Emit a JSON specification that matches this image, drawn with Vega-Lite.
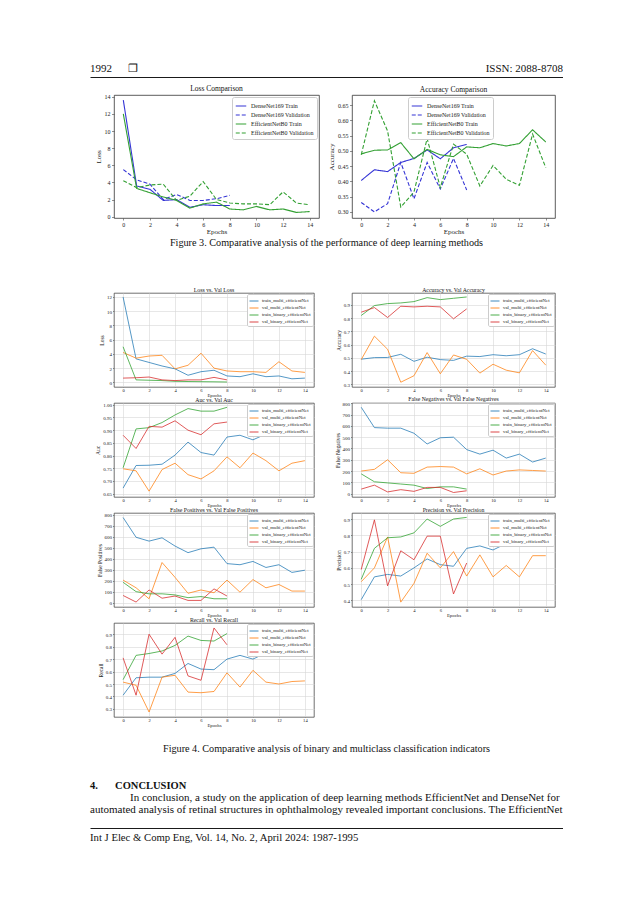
{
"$schema": "https://vega.github.io/schema/vega-lite/v6.json",
"autosize": {"type": "pad"},
"padding": {"left": 90, "top": 54, "right": 0, "bottom": 0},
"background": "white",
"config": {
 "font": "Liberation Serif",
 "view": {"stroke": null},
 "concat": {"spacing": 0},
 "axis": {"labelFont": "Liberation Serif", "titleFont": "Liberation Serif", "titleFontWeight": "normal", "labelColor": "#222", "titleColor": "#222", "domain": false, "tickColor": "#444", "tickWidth": 0.6, "gridColor": "#d6d6d6", "gridWidth": 0.6, "labelPadding": 1},
 "title": {"font": "Liberation Serif", "fontWeight": "normal", "color": "#111"},
 "legend": {"labelFont": "Liberation Serif", "labelColor": "#222"},
 "text": {"font": "Liberation Serif", "color": "#111"}
},
"datasets": {
 "fig3": [
  {"metric":"loss","epoch":0,"DenseNet169 Train":13.6,"DenseNet169 Validation":5.5,"EfficientNetB0 Train":12.0,"EfficientNetB0 Validation":4.2},
  {"metric":"loss","epoch":1,"DenseNet169 Train":3.6,"DenseNet169 Validation":4.3,"EfficientNetB0 Train":3.3,"EfficientNetB0 Validation":3.4},
  {"metric":"loss","epoch":2,"DenseNet169 Train":3.2,"DenseNet169 Validation":3.8,"EfficientNetB0 Train":2.8,"EfficientNetB0 Validation":3.7},
  {"metric":"loss","epoch":3,"DenseNet169 Train":1.9,"DenseNet169 Validation":2.0,"EfficientNetB0 Train":2.3,"EfficientNetB0 Validation":3.8},
  {"metric":"loss","epoch":4,"DenseNet169 Train":2.0,"DenseNet169 Validation":2.6,"EfficientNetB0 Train":1.9,"EfficientNetB0 Validation":1.9},
  {"metric":"loss","epoch":5,"DenseNet169 Train":1.1,"DenseNet169 Validation":1.9,"EfficientNetB0 Train":1.0,"EfficientNetB0 Validation":2.4},
  {"metric":"loss","epoch":6,"DenseNet169 Train":1.4,"DenseNet169 Validation":1.9,"EfficientNetB0 Train":1.5,"EfficientNetB0 Validation":4.1},
  {"metric":"loss","epoch":7,"DenseNet169 Train":1.3,"DenseNet169 Validation":2.1,"EfficientNetB0 Train":1.7,"EfficientNetB0 Validation":2.0},
  {"metric":"loss","epoch":8,"DenseNet169 Train":1.3,"DenseNet169 Validation":2.5,"EfficientNetB0 Train":0.9,"EfficientNetB0 Validation":1.6},
  {"metric":"loss","epoch":9,"EfficientNetB0 Train":0.8,"EfficientNetB0 Validation":1.5},
  {"metric":"loss","epoch":10,"EfficientNetB0 Train":1.2,"EfficientNetB0 Validation":1.5},
  {"metric":"loss","epoch":11,"EfficientNetB0 Train":0.8,"EfficientNetB0 Validation":1.4},
  {"metric":"loss","epoch":12,"EfficientNetB0 Train":0.9,"EfficientNetB0 Validation":2.9},
  {"metric":"loss","epoch":13,"EfficientNetB0 Train":0.5,"EfficientNetB0 Validation":1.6},
  {"metric":"loss","epoch":14,"EfficientNetB0 Train":0.6,"EfficientNetB0 Validation":1.4},
  {"metric":"acc","epoch":0,"DenseNet169 Train":0.403,"DenseNet169 Validation":0.331,"EfficientNetB0 Train":0.490,"EfficientNetB0 Validation":0.487},
  {"metric":"acc","epoch":1,"DenseNet169 Train":0.438,"DenseNet169 Validation":0.300,"EfficientNetB0 Train":0.502,"EfficientNetB0 Validation":0.664},
  {"metric":"acc","epoch":2,"DenseNet169 Train":0.432,"DenseNet169 Validation":0.327,"EfficientNetB0 Train":0.503,"EfficientNetB0 Validation":0.565},
  {"metric":"acc","epoch":3,"DenseNet169 Train":0.462,"DenseNet169 Validation":0.462,"EfficientNetB0 Train":0.527,"EfficientNetB0 Validation":0.316},
  {"metric":"acc","epoch":4,"DenseNet169 Train":0.475,"DenseNet169 Validation":0.343,"EfficientNetB0 Train":0.474,"EfficientNetB0 Validation":0.365},
  {"metric":"acc","epoch":5,"DenseNet169 Train":0.503,"DenseNet169 Validation":0.462,"EfficientNetB0 Train":0.505,"EfficientNetB0 Validation":0.540},
  {"metric":"acc","epoch":6,"DenseNet169 Train":0.474,"DenseNet169 Validation":0.375,"EfficientNetB0 Train":0.487,"EfficientNetB0 Validation":0.380},
  {"metric":"acc","epoch":7,"DenseNet169 Train":0.510,"DenseNet169 Validation":0.475,"EfficientNetB0 Train":0.481,"EfficientNetB0 Validation":0.522},
  {"metric":"acc","epoch":8,"DenseNet169 Train":0.521,"DenseNet169 Validation":0.372,"EfficientNetB0 Train":0.513,"EfficientNetB0 Validation":0.489},
  {"metric":"acc","epoch":9,"EfficientNetB0 Train":0.510,"EfficientNetB0 Validation":0.385},
  {"metric":"acc","epoch":10,"EfficientNetB0 Train":0.524,"EfficientNetB0 Validation":0.452},
  {"metric":"acc","epoch":11,"EfficientNetB0 Train":0.516,"EfficientNetB0 Validation":0.407},
  {"metric":"acc","epoch":12,"EfficientNetB0 Train":0.524,"EfficientNetB0 Validation":0.387},
  {"metric":"acc","epoch":13,"EfficientNetB0 Train":0.569,"EfficientNetB0 Validation":0.555},
  {"metric":"acc","epoch":14,"EfficientNetB0 Train":0.529,"EfficientNetB0 Validation":0.445}
 ],
 "fig4": [
  {"metric":"loss","epoch":0,"train_multi_efficientNet":12.0,"val_multi_efficientNet":4.2,"train_binary_efficientNet":5.0,"val_binary_efficientNet":0.6},
  {"metric":"loss","epoch":1,"train_multi_efficientNet":3.3,"val_multi_efficientNet":3.4,"train_binary_efficientNet":0.35,"val_binary_efficientNet":0.65},
  {"metric":"loss","epoch":2,"train_multi_efficientNet":2.8,"val_multi_efficientNet":3.7,"train_binary_efficientNet":0.3,"val_binary_efficientNet":0.75},
  {"metric":"loss","epoch":3,"train_multi_efficientNet":2.3,"val_multi_efficientNet":3.8,"train_binary_efficientNet":0.25,"val_binary_efficientNet":0.35},
  {"metric":"loss","epoch":4,"train_multi_efficientNet":1.9,"val_multi_efficientNet":1.9,"train_binary_efficientNet":0.15,"val_binary_efficientNet":0.25},
  {"metric":"loss","epoch":5,"train_multi_efficientNet":1.0,"val_multi_efficientNet":2.4,"train_binary_efficientNet":0.12,"val_binary_efficientNet":0.35},
  {"metric":"loss","epoch":6,"train_multi_efficientNet":1.5,"val_multi_efficientNet":4.1,"train_binary_efficientNet":0.1,"val_binary_efficientNet":0.35},
  {"metric":"loss","epoch":7,"train_multi_efficientNet":1.7,"val_multi_efficientNet":2.0,"train_binary_efficientNet":0.08,"val_binary_efficientNet":0.7},
  {"metric":"loss","epoch":8,"train_multi_efficientNet":0.9,"val_multi_efficientNet":1.6,"train_binary_efficientNet":0.05,"val_binary_efficientNet":0.35},
  {"metric":"loss","epoch":9,"train_multi_efficientNet":0.8,"val_multi_efficientNet":1.5},
  {"metric":"loss","epoch":10,"train_multi_efficientNet":1.2,"val_multi_efficientNet":1.5},
  {"metric":"loss","epoch":11,"train_multi_efficientNet":0.8,"val_multi_efficientNet":1.4},
  {"metric":"loss","epoch":12,"train_multi_efficientNet":0.9,"val_multi_efficientNet":2.9},
  {"metric":"loss","epoch":13,"train_multi_efficientNet":0.5,"val_multi_efficientNet":1.6},
  {"metric":"loss","epoch":14,"train_multi_efficientNet":0.6,"val_multi_efficientNet":1.4},
  {"metric":"acc","epoch":0,"train_multi_efficientNet":0.490,"val_multi_efficientNet":0.487,"train_binary_efficientNet":0.82,"val_binary_efficientNet":0.845},
  {"metric":"acc","epoch":1,"train_multi_efficientNet":0.502,"val_multi_efficientNet":0.664,"train_binary_efficientNet":0.895,"val_binary_efficientNet":0.88},
  {"metric":"acc","epoch":2,"train_multi_efficientNet":0.503,"val_multi_efficientNet":0.565,"train_binary_efficientNet":0.91,"val_binary_efficientNet":0.805},
  {"metric":"acc","epoch":3,"train_multi_efficientNet":0.527,"val_multi_efficientNet":0.316,"train_binary_efficientNet":0.915,"val_binary_efficientNet":0.89},
  {"metric":"acc","epoch":4,"train_multi_efficientNet":0.474,"val_multi_efficientNet":0.365,"train_binary_efficientNet":0.925,"val_binary_efficientNet":0.885},
  {"metric":"acc","epoch":5,"train_multi_efficientNet":0.505,"val_multi_efficientNet":0.540,"train_binary_efficientNet":0.955,"val_binary_efficientNet":0.89},
  {"metric":"acc","epoch":6,"train_multi_efficientNet":0.487,"val_multi_efficientNet":0.380,"train_binary_efficientNet":0.94,"val_binary_efficientNet":0.885},
  {"metric":"acc","epoch":7,"train_multi_efficientNet":0.481,"val_multi_efficientNet":0.522,"train_binary_efficientNet":0.95,"val_binary_efficientNet":0.795},
  {"metric":"acc","epoch":8,"train_multi_efficientNet":0.513,"val_multi_efficientNet":0.489,"train_binary_efficientNet":0.96,"val_binary_efficientNet":0.87},
  {"metric":"acc","epoch":9,"train_multi_efficientNet":0.510,"val_multi_efficientNet":0.385},
  {"metric":"acc","epoch":10,"train_multi_efficientNet":0.524,"val_multi_efficientNet":0.452},
  {"metric":"acc","epoch":11,"train_multi_efficientNet":0.516,"val_multi_efficientNet":0.407},
  {"metric":"acc","epoch":12,"train_multi_efficientNet":0.524,"val_multi_efficientNet":0.387},
  {"metric":"acc","epoch":13,"train_multi_efficientNet":0.569,"val_multi_efficientNet":0.555},
  {"metric":"acc","epoch":14,"train_multi_efficientNet":0.529,"val_multi_efficientNet":0.445},
  {"metric":"auc","epoch":0,"train_multi_efficientNet":0.672,"val_multi_efficientNet":0.748,"train_binary_efficientNet":0.752,"val_binary_efficientNet":0.880},
  {"metric":"auc","epoch":1,"train_multi_efficientNet":0.761,"val_multi_efficientNet":0.740,"train_binary_efficientNet":0.905,"val_binary_efficientNet":0.828},
  {"metric":"auc","epoch":2,"train_multi_efficientNet":0.762,"val_multi_efficientNet":0.660,"train_binary_efficientNet":0.910,"val_binary_efficientNet":0.915},
  {"metric":"auc","epoch":3,"train_multi_efficientNet":0.766,"val_multi_efficientNet":0.745,"train_binary_efficientNet":0.930,"val_binary_efficientNet":0.912},
  {"metric":"auc","epoch":4,"train_multi_efficientNet":0.802,"val_multi_efficientNet":0.770,"train_binary_efficientNet":0.960,"val_binary_efficientNet":0.937},
  {"metric":"auc","epoch":5,"train_multi_efficientNet":0.853,"val_multi_efficientNet":0.725,"train_binary_efficientNet":0.985,"val_binary_efficientNet":0.900},
  {"metric":"auc","epoch":6,"train_multi_efficientNet":0.812,"val_multi_efficientNet":0.708,"train_binary_efficientNet":0.975,"val_binary_efficientNet":0.882},
  {"metric":"auc","epoch":7,"train_multi_efficientNet":0.802,"val_multi_efficientNet":0.740,"train_binary_efficientNet":0.975,"val_binary_efficientNet":0.925},
  {"metric":"auc","epoch":8,"train_multi_efficientNet":0.873,"val_multi_efficientNet":0.795,"train_binary_efficientNet":0.990,"val_binary_efficientNet":0.932},
  {"metric":"auc","epoch":9,"train_multi_efficientNet":0.880,"val_multi_efficientNet":0.752},
  {"metric":"auc","epoch":10,"train_multi_efficientNet":0.862,"val_multi_efficientNet":0.810},
  {"metric":"auc","epoch":11,"train_multi_efficientNet":0.885,"val_multi_efficientNet":0.780},
  {"metric":"auc","epoch":12,"train_multi_efficientNet":0.900,"val_multi_efficientNet":0.740},
  {"metric":"auc","epoch":13,"train_multi_efficientNet":0.910,"val_multi_efficientNet":0.770},
  {"metric":"auc","epoch":14,"train_multi_efficientNet":0.905,"val_multi_efficientNet":0.780},
  {"metric":"fn","epoch":0,"train_multi_efficientNet":765,"val_multi_efficientNet":200,"train_binary_efficientNet":175,"val_binary_efficientNet":40},
  {"metric":"fn","epoch":1,"train_multi_efficientNet":585,"val_multi_efficientNet":215,"train_binary_efficientNet":105,"val_binary_efficientNet":75},
  {"metric":"fn","epoch":2,"train_multi_efficientNet":580,"val_multi_efficientNet":300,"train_binary_efficientNet":95,"val_binary_efficientNet":15},
  {"metric":"fn","epoch":3,"train_multi_efficientNet":580,"val_multi_efficientNet":185,"train_binary_efficientNet":85,"val_binary_efficientNet":35},
  {"metric":"fn","epoch":4,"train_multi_efficientNet":535,"val_multi_efficientNet":180,"train_binary_efficientNet":75,"val_binary_efficientNet":20},
  {"metric":"fn","epoch":5,"train_multi_efficientNet":440,"val_multi_efficientNet":235,"train_binary_efficientNet":45,"val_binary_efficientNet":55},
  {"metric":"fn","epoch":6,"train_multi_efficientNet":495,"val_multi_efficientNet":240,"train_binary_efficientNet":60,"val_binary_efficientNet":55},
  {"metric":"fn","epoch":7,"train_multi_efficientNet":500,"val_multi_efficientNet":235,"train_binary_efficientNet":60,"val_binary_efficientNet":10},
  {"metric":"fn","epoch":8,"train_multi_efficientNet":390,"val_multi_efficientNet":175,"train_binary_efficientNet":40,"val_binary_efficientNet":25},
  {"metric":"fn","epoch":9,"train_multi_efficientNet":350,"val_multi_efficientNet":220},
  {"metric":"fn","epoch":10,"train_multi_efficientNet":385,"val_multi_efficientNet":165},
  {"metric":"fn","epoch":11,"train_multi_efficientNet":315,"val_multi_efficientNet":200},
  {"metric":"fn","epoch":12,"train_multi_efficientNet":350,"val_multi_efficientNet":210},
  {"metric":"fn","epoch":13,"train_multi_efficientNet":280,"val_multi_efficientNet":205},
  {"metric":"fn","epoch":14,"train_multi_efficientNet":315,"val_multi_efficientNet":200},
  {"metric":"fp","epoch":0,"train_multi_efficientNet":775,"val_multi_efficientNet":205,"train_binary_efficientNet":185,"val_binary_efficientNet":65},
  {"metric":"fp","epoch":1,"train_multi_efficientNet":595,"val_multi_efficientNet":135,"train_binary_efficientNet":100,"val_binary_efficientNet":5},
  {"metric":"fp","epoch":2,"train_multi_efficientNet":560,"val_multi_efficientNet":35,"train_binary_efficientNet":80,"val_binary_efficientNet":115},
  {"metric":"fp","epoch":3,"train_multi_efficientNet":590,"val_multi_efficientNet":365,"train_binary_efficientNet":80,"val_binary_efficientNet":40},
  {"metric":"fp","epoch":4,"train_multi_efficientNet":515,"val_multi_efficientNet":230,"train_binary_efficientNet":70,"val_binary_efficientNet":60},
  {"metric":"fp","epoch":5,"train_multi_efficientNet":455,"val_multi_efficientNet":85,"train_binary_efficientNet":45,"val_binary_efficientNet":20},
  {"metric":"fp","epoch":6,"train_multi_efficientNet":490,"val_multi_efficientNet":115,"train_binary_efficientNet":55,"val_binary_efficientNet":20},
  {"metric":"fp","epoch":7,"train_multi_efficientNet":505,"val_multi_efficientNet":90,"train_binary_efficientNet":35,"val_binary_efficientNet":125},
  {"metric":"fp","epoch":8,"train_multi_efficientNet":355,"val_multi_efficientNet":205,"train_binary_efficientNet":35,"val_binary_efficientNet":60},
  {"metric":"fp","epoch":9,"train_multi_efficientNet":345,"val_multi_efficientNet":95},
  {"metric":"fp","epoch":10,"train_multi_efficientNet":375,"val_multi_efficientNet":210},
  {"metric":"fp","epoch":11,"train_multi_efficientNet":320,"val_multi_efficientNet":135},
  {"metric":"fp","epoch":12,"train_multi_efficientNet":345,"val_multi_efficientNet":165},
  {"metric":"fp","epoch":13,"train_multi_efficientNet":275,"val_multi_efficientNet":105},
  {"metric":"fp","epoch":14,"train_multi_efficientNet":295,"val_multi_efficientNet":105},
  {"metric":"prec","epoch":0,"train_multi_efficientNet":0.405,"val_multi_efficientNet":0.515,"train_binary_efficientNet":0.53,"val_binary_efficientNet":0.59},
  {"metric":"prec","epoch":1,"train_multi_efficientNet":0.545,"val_multi_efficientNet":0.60,"train_binary_efficientNet":0.72,"val_binary_efficientNet":0.895},
  {"metric":"prec","epoch":2,"train_multi_efficientNet":0.56,"val_multi_efficientNet":0.79,"train_binary_efficientNet":0.785,"val_binary_efficientNet":0.49},
  {"metric":"prec","epoch":3,"train_multi_efficientNet":0.55,"val_multi_efficientNet":0.39,"train_binary_efficientNet":0.79,"val_binary_efficientNet":0.705},
  {"metric":"prec","epoch":4,"train_multi_efficientNet":0.60,"val_multi_efficientNet":0.505,"train_binary_efficientNet":0.815,"val_binary_efficientNet":0.65},
  {"metric":"prec","epoch":5,"train_multi_efficientNet":0.655,"val_multi_efficientNet":0.69,"train_binary_efficientNet":0.90,"val_binary_efficientNet":0.795},
  {"metric":"prec","epoch":6,"train_multi_efficientNet":0.62,"val_multi_efficientNet":0.60,"train_binary_efficientNet":0.855,"val_binary_efficientNet":0.795},
  {"metric":"prec","epoch":7,"train_multi_efficientNet":0.61,"val_multi_efficientNet":0.70,"train_binary_efficientNet":0.90,"val_binary_efficientNet":0.44},
  {"metric":"prec","epoch":8,"train_multi_efficientNet":0.72,"val_multi_efficientNet":0.55,"train_binary_efficientNet":0.91,"val_binary_efficientNet":0.63},
  {"metric":"prec","epoch":9,"train_multi_efficientNet":0.735,"val_multi_efficientNet":0.68},
  {"metric":"prec","epoch":10,"train_multi_efficientNet":0.71,"val_multi_efficientNet":0.545},
  {"metric":"prec","epoch":11,"train_multi_efficientNet":0.75,"val_multi_efficientNet":0.615},
  {"metric":"prec","epoch":12,"train_multi_efficientNet":0.735,"val_multi_efficientNet":0.545},
  {"metric":"prec","epoch":13,"train_multi_efficientNet":0.78,"val_multi_efficientNet":0.675},
  {"metric":"prec","epoch":14,"train_multi_efficientNet":0.77,"val_multi_efficientNet":0.675},
  {"metric":"recall","epoch":0,"train_multi_efficientNet":0.41,"val_multi_efficientNet":0.515,"train_binary_efficientNet":0.535,"val_binary_efficientNet":0.71},
  {"metric":"recall","epoch":1,"train_multi_efficientNet":0.55,"val_multi_efficientNet":0.49,"train_binary_efficientNet":0.73,"val_binary_efficientNet":0.41},
  {"metric":"recall","epoch":2,"train_multi_efficientNet":0.555,"val_multi_efficientNet":0.275,"train_binary_efficientNet":0.745,"val_binary_efficientNet":0.90},
  {"metric":"recall","epoch":3,"train_multi_efficientNet":0.555,"val_multi_efficientNet":0.555,"train_binary_efficientNet":0.765,"val_binary_efficientNet":0.74},
  {"metric":"recall","epoch":4,"train_multi_efficientNet":0.585,"val_multi_efficientNet":0.57,"train_binary_efficientNet":0.81,"val_binary_efficientNet":0.875},
  {"metric":"recall","epoch":5,"train_multi_efficientNet":0.665,"val_multi_efficientNet":0.435,"train_binary_efficientNet":0.885,"val_binary_efficientNet":0.565},
  {"metric":"recall","epoch":6,"train_multi_efficientNet":0.62,"val_multi_efficientNet":0.43,"train_binary_efficientNet":0.85,"val_binary_efficientNet":0.53},
  {"metric":"recall","epoch":7,"train_multi_efficientNet":0.615,"val_multi_efficientNet":0.44,"train_binary_efficientNet":0.845,"val_binary_efficientNet":0.95},
  {"metric":"recall","epoch":8,"train_multi_efficientNet":0.70,"val_multi_efficientNet":0.59,"train_binary_efficientNet":0.905,"val_binary_efficientNet":0.815},
  {"metric":"recall","epoch":9,"train_multi_efficientNet":0.73,"val_multi_efficientNet":0.475},
  {"metric":"recall","epoch":10,"train_multi_efficientNet":0.70,"val_multi_efficientNet":0.61},
  {"metric":"recall","epoch":11,"train_multi_efficientNet":0.75,"val_multi_efficientNet":0.515},
  {"metric":"recall","epoch":12,"train_multi_efficientNet":0.78,"val_multi_efficientNet":0.50},
  {"metric":"recall","epoch":13,"train_multi_efficientNet":0.80,"val_multi_efficientNet":0.52},
  {"metric":"recall","epoch":14,"train_multi_efficientNet":0.79,"val_multi_efficientNet":0.525}
 ]
},
"columns": 4,
"bounds": "flush",
"align": "each",
"spacing": 0,
"resolve": {"scale": {"color": "independent", "strokeDash": "independent"}, "legend": {"color": "independent", "strokeDash": "independent"}},
"concat": [
 {"width": 24, "height": 17,
  "data": {"values": [{"label": "1992", "pos": 0, "side": "left"}, {"label": "❐", "pos": 0.08, "side": "left"}, {"label": "ISSN: 2088-8708", "pos": 1, "side": "right"}]},
  "encoding": {"x": {"field": "pos", "type": "quantitative", "scale": {"domain": [0, 1], "range": [0, 473], "nice": false, "zero": false}, "axis": {"orient": "bottom", "labels": false, "ticks": false, "grid": false, "title": null, "domain": true, "domainColor": "#000", "domainWidth": 0.9}}, "text": {"field": "label"}},
  "layer": [
   {"transform": [{"filter": "datum.side === 'left'"}], "mark": {"type": "text", "align": "left", "fontSize": 11}},
   {"transform": [{"filter": "datum.side === 'right'"}], "mark": {"type": "text", "align": "right", "fontSize": 11}}
  ]},
 {"width": 1, "height": 35, "data": {"values": [{}]}, "mark": {"type": "text", "text": ""}},
 {"width": 1, "height": 1, "data": {"values": [{}]}, "mark": {"type": "text", "text": ""}},
 {"width": 1, "height": 1, "data": {"values": [{}]}, "mark": {"type": "text", "text": ""}},

 {"width": 24, "height": 123, "data": {"values": [{}]}, "mark": {"type": "text", "text": ""}},
 {"width": 205, "height": 123,
  "view": {"stroke": "#333", "strokeWidth": 0.8},
  "title": {"text": "Loss Comparison", "fontSize": 7.5, "offset": 1.5},
  "data": {"name": "fig3"},
  "transform": [{"filter": "datum.metric === 'loss'"}, {"fold": ["DenseNet169 Train", "DenseNet169 Validation", "EfficientNetB0 Train", "EfficientNetB0 Validation"], "as": ["series", "value"]}],
  "mark": {"type": "line", "strokeWidth": 1.1},
  "encoding": {
   "x": {"field": "epoch", "type": "quantitative", "scale": {"domain": [-0.7, 14.7], "nice": false, "zero": false}, "axis": {"values": [0, 2, 4, 6, 8, 10, 12, 14], "title": "Epochs", "grid": false, "labelFontSize": 6, "titleFontSize": 7, "tickSize": 2, "labelPadding": 1, "titlePadding": 0}},
   "y": {"field": "value", "type": "quantitative", "scale": {"domain": [-0.15, 14.2], "nice": false, "zero": false}, "axis": {"values": [0, 2, 4, 6, 8, 10, 12, 14], "title": "Loss", "grid": false, "labelFontSize": 6, "titleFontSize": 7, "tickSize": 2.5, "labelPadding": 1.5, "titlePadding": 3}},
   "color": {"field": "series", "type": "nominal", "scale": {"domain": ["DenseNet169 Train", "DenseNet169 Validation", "EfficientNetB0 Train", "EfficientNetB0 Validation"], "range": ["#3535d5", "#3535d5", "#33a033", "#33a033"]},
    "legend": {"title": null, "orient": "top-right", "offset": 2, "labelFontSize": 6, "symbolType": "stroke", "symbolSize": 110, "symbolStrokeWidth": 1.2, "rowPadding": -1.8, "labelOffset": 4, "padding": 3, "strokeColor": "#ccc", "fillColor": "white", "cornerRadius": 2}},
   "strokeDash": {"field": "series", "type": "nominal", "scale": {"domain": ["DenseNet169 Train", "DenseNet169 Validation", "EfficientNetB0 Train", "EfficientNetB0 Validation"], "range": [[1, 0], [4, 2], [1, 0], [4, 2]]},
    "legend": {"title": null, "orient": "top-right", "offset": 2, "labelFontSize": 6, "symbolType": "stroke", "symbolSize": 110, "symbolStrokeWidth": 1.2, "rowPadding": -1.8, "labelOffset": 4, "padding": 3, "strokeColor": "#ccc", "fillColor": "white", "cornerRadius": 2}}
  }},
 {"width": 33, "height": 1, "data": {"values": [{}]}, "mark": {"type": "text", "text": ""}},
 {"width": 203, "height": 123,
  "view": {"stroke": "#333", "strokeWidth": 0.8},
  "title": {"text": "Accuracy Comparison", "fontSize": 7.5, "offset": 1.5},
  "data": {"name": "fig3"},
  "transform": [{"filter": "datum.metric === 'acc'"}, {"fold": ["DenseNet169 Train", "DenseNet169 Validation", "EfficientNetB0 Train", "EfficientNetB0 Validation"], "as": ["series", "value"]}],
  "mark": {"type": "line", "strokeWidth": 1.1},
  "encoding": {
   "x": {"field": "epoch", "type": "quantitative", "scale": {"domain": [-0.7, 14.7], "nice": false, "zero": false}, "axis": {"values": [0, 2, 4, 6, 8, 10, 12, 14], "title": "Epochs", "grid": false, "labelFontSize": 6, "titleFontSize": 7, "tickSize": 2, "labelPadding": 1, "titlePadding": 0}},
   "y": {"field": "value", "type": "quantitative", "scale": {"domain": [0.28, 0.683], "nice": false, "zero": false}, "axis": {"values": [0.3, 0.35, 0.4, 0.45, 0.5, 0.55, 0.6, 0.65], "format": ".2f", "title": "Accuracy", "grid": false, "labelFontSize": 6, "titleFontSize": 7, "tickSize": 2.5, "labelPadding": 1.5, "titlePadding": 3}},
   "color": {"field": "series", "type": "nominal", "scale": {"domain": ["DenseNet169 Train", "DenseNet169 Validation", "EfficientNetB0 Train", "EfficientNetB0 Validation"], "range": ["#3535d5", "#3535d5", "#33a033", "#33a033"]},
    "legend": {"title": null, "orient": "none", "legendX": 56, "legendY": 2, "labelFontSize": 6, "symbolType": "stroke", "symbolSize": 110, "symbolStrokeWidth": 1.2, "rowPadding": -1.8, "labelOffset": 4, "padding": 3, "strokeColor": "#ccc", "fillColor": "white", "cornerRadius": 2}},
   "strokeDash": {"field": "series", "type": "nominal", "scale": {"domain": ["DenseNet169 Train", "DenseNet169 Validation", "EfficientNetB0 Train", "EfficientNetB0 Validation"], "range": [[1, 0], [4, 2], [1, 0], [4, 2]]},
    "legend": {"title": null, "orient": "none", "legendX": 56, "legendY": 2, "labelFontSize": 6, "symbolType": "stroke", "symbolSize": 110, "symbolStrokeWidth": 1.2, "rowPadding": -1.8, "labelOffset": 4, "padding": 3, "strokeColor": "#ccc", "fillColor": "white", "cornerRadius": 2}}
  }},

 {"width": 24, "height": 50,
  "data": {"values": [{"label": "Figure 3. Comparative analysis of the performance of deep learning methods", "pos": 0.5}]},
  "mark": {"type": "text", "align": "center", "fontSize": 10.2},
  "encoding": {"x": {"field": "pos", "type": "quantitative", "scale": {"domain": [0, 1], "range": [0, 473], "nice": false, "zero": false}, "axis": null}, "text": {"field": "label"}}},
 {"width": 1, "height": 75, "data": {"values": [{}]}, "mark": {"type": "text", "text": ""}},
 {"width": 1, "height": 1, "data": {"values": [{}]}, "mark": {"type": "text", "text": ""}},
 {"width": 1, "height": 1, "data": {"values": [{}]}, "mark": {"type": "text", "text": ""}},

 {"width": 24, "height": 110, "data": {"values": [{}]}, "mark": {"type": "text", "text": ""}},
 {"width": 200, "height": 94, "view": {"stroke": "#333", "strokeWidth": 0.7},
  "title": {"text": "Loss vs. Val Loss", "fontSize": 5.8, "offset": 0.3},
  "data": {"name": "fig4"},
  "transform": [{"filter": "datum.metric === 'loss'"}, {"fold": ["train_multi_efficientNet", "val_multi_efficientNet", "train_binary_efficientNet", "val_binary_efficientNet"], "as": ["series", "value"]}],
  "mark": {"type": "line", "strokeWidth": 0.9, "opacity": 0.85},
  "encoding": {
   "x": {"field": "epoch", "type": "quantitative", "scale": {"domain": [-0.7, 14.7], "nice": false, "zero": false}, "axis": {"values": [0, 2, 4, 6, 8, 10, 12, 14], "title": "Epochs", "grid": true, "labelFontSize": 4.6, "titleFontSize": 4.8, "tickSize": 0.5, "labelPadding": 0, "titlePadding": 0}},
   "y": {"field": "value", "type": "quantitative", "scale": {"domain": [-0.65, 12.55], "nice": false, "zero": false}, "axis": {"values": [0, 2, 4, 6, 8, 10, 12], "title": "Loss", "grid": true, "labelFontSize": 5, "titleFontSize": 5.5, "tickSize": 1.5, "titlePadding": 2}},
   "color": {"field": "series", "type": "nominal", "scale": {"domain": ["train_multi_efficientNet", "val_multi_efficientNet", "train_binary_efficientNet", "val_binary_efficientNet"], "range": ["#1f77b4", "#ff7f0e", "#2ca02c", "#d62728"]},
    "legend": {"title": null, "orient": "top-right", "offset": 1, "labelFontSize": 4.8, "symbolType": "stroke", "symbolSize": 81, "symbolStrokeWidth": 1, "rowPadding": -2.5, "labelOffset": 3, "padding": 2, "strokeColor": "#ccc", "fillColor": "white", "cornerRadius": 1.5}}
  }},
 {"width": 33, "height": 1, "data": {"values": [{}]}, "mark": {"type": "text", "text": ""}},
 {"width": 203, "height": 94, "view": {"stroke": "#333", "strokeWidth": 0.7},
  "title": {"text": "Accuracy vs. Val Accuracy", "fontSize": 5.8, "offset": 0.3},
  "data": {"name": "fig4"},
  "transform": [{"filter": "datum.metric === 'acc'"}, {"fold": ["train_multi_efficientNet", "val_multi_efficientNet", "train_binary_efficientNet", "val_binary_efficientNet"], "as": ["series", "value"]}],
  "mark": {"type": "line", "strokeWidth": 0.9, "opacity": 0.85},
  "encoding": {
   "x": {"field": "epoch", "type": "quantitative", "scale": {"domain": [-0.7, 14.7], "nice": false, "zero": false}, "axis": {"values": [0, 2, 4, 6, 8, 10, 12, 14], "title": "Epochs", "grid": true, "labelFontSize": 4.6, "titleFontSize": 4.5, "tickSize": 0.5, "labelPadding": 0, "titlePadding": 0}},
   "y": {"field": "value", "type": "quantitative", "scale": {"domain": [0.28, 0.99], "nice": false, "zero": false}, "axis": {"values": [0.3, 0.4, 0.5, 0.6, 0.7, 0.8, 0.9], "format": ".1f", "title": "Accuracy", "grid": true, "labelFontSize": 5, "titleFontSize": 5.5, "tickSize": 1.5, "titlePadding": 2}},
   "color": {"field": "series", "type": "nominal", "scale": {"domain": ["train_multi_efficientNet", "val_multi_efficientNet", "train_binary_efficientNet", "val_binary_efficientNet"], "range": ["#1f77b4", "#ff7f0e", "#2ca02c", "#d62728"]},
    "legend": {"title": null, "orient": "top-right", "offset": 1, "labelFontSize": 4.8, "symbolType": "stroke", "symbolSize": 81, "symbolStrokeWidth": 1, "rowPadding": -2.5, "labelOffset": 3, "padding": 2, "strokeColor": "#ccc", "fillColor": "white", "cornerRadius": 1.5}}
  }},

 {"width": 24, "height": 110, "data": {"values": [{}]}, "mark": {"type": "text", "text": ""}},
 {"width": 200, "height": 94, "view": {"stroke": "#333", "strokeWidth": 0.7},
  "title": {"text": "Auc vs. Val Auc", "fontSize": 5.8, "offset": 0.3},
  "data": {"name": "fig4"},
  "transform": [{"filter": "datum.metric === 'auc'"}, {"fold": ["train_multi_efficientNet", "val_multi_efficientNet", "train_binary_efficientNet", "val_binary_efficientNet"], "as": ["series", "value"]}],
  "mark": {"type": "line", "strokeWidth": 0.9, "opacity": 0.85},
  "encoding": {
   "x": {"field": "epoch", "type": "quantitative", "scale": {"domain": [-0.7, 14.7], "nice": false, "zero": false}, "axis": {"values": [0, 2, 4, 6, 8, 10, 12, 14], "title": "Epochs", "grid": true, "labelFontSize": 4.6, "titleFontSize": 4.8, "tickSize": 0.5, "labelPadding": 0, "titlePadding": 0}},
   "y": {"field": "value", "type": "quantitative", "scale": {"domain": [0.637, 1.007], "nice": false, "zero": false}, "axis": {"values": [0.65, 0.7, 0.75, 0.8, 0.85, 0.9, 0.95, 1.0], "format": ".2f", "title": "Auc", "grid": true, "labelFontSize": 5, "titleFontSize": 5.5, "tickSize": 1.5, "titlePadding": 2}},
   "color": {"field": "series", "type": "nominal", "scale": {"domain": ["train_multi_efficientNet", "val_multi_efficientNet", "train_binary_efficientNet", "val_binary_efficientNet"], "range": ["#1f77b4", "#ff7f0e", "#2ca02c", "#d62728"]},
    "legend": {"title": null, "orient": "top-right", "offset": 1, "labelFontSize": 4.8, "symbolType": "stroke", "symbolSize": 81, "symbolStrokeWidth": 1, "rowPadding": -2.5, "labelOffset": 3, "padding": 2, "strokeColor": "#ccc", "fillColor": "white", "cornerRadius": 1.5}}
  }},
 {"width": 33, "height": 1, "data": {"values": [{}]}, "mark": {"type": "text", "text": ""}},
 {"width": 203, "height": 94, "view": {"stroke": "#333", "strokeWidth": 0.7},
  "title": {"text": "False Negatives vs. Val False Negatives", "fontSize": 5.7, "offset": 0},
  "data": {"name": "fig4"},
  "transform": [{"filter": "datum.metric === 'fn'"}, {"fold": ["train_multi_efficientNet", "val_multi_efficientNet", "train_binary_efficientNet", "val_binary_efficientNet"], "as": ["series", "value"]}],
  "mark": {"type": "line", "strokeWidth": 0.9, "opacity": 0.85},
  "encoding": {
   "x": {"field": "epoch", "type": "quantitative", "scale": {"domain": [-0.7, 14.7], "nice": false, "zero": false}, "axis": {"values": [0, 2, 4, 6, 8, 10, 12, 14], "title": "Epochs", "grid": true, "labelFontSize": 4.6, "titleFontSize": 4.8, "tickSize": 0.5, "labelPadding": 0, "titlePadding": 0}},
   "y": {"field": "value", "type": "quantitative", "scale": {"domain": [-30, 803], "nice": false, "zero": false}, "axis": {"values": [0, 100, 200, 300, 400, 500, 600, 700, 800], "title": "False Negatives", "grid": true, "labelFontSize": 5, "titleFontSize": 5.5, "tickSize": 1.5, "titlePadding": 2}},
   "color": {"field": "series", "type": "nominal", "scale": {"domain": ["train_multi_efficientNet", "val_multi_efficientNet", "train_binary_efficientNet", "val_binary_efficientNet"], "range": ["#1f77b4", "#ff7f0e", "#2ca02c", "#d62728"]},
    "legend": {"title": null, "orient": "top-right", "offset": 1, "labelFontSize": 4.8, "symbolType": "stroke", "symbolSize": 81, "symbolStrokeWidth": 1, "rowPadding": -2.5, "labelOffset": 3, "padding": 2, "strokeColor": "#ccc", "fillColor": "white", "cornerRadius": 1.5}}
  }},

 {"width": 24, "height": 110, "data": {"values": [{}]}, "mark": {"type": "text", "text": ""}},
 {"width": 200, "height": 94, "view": {"stroke": "#333", "strokeWidth": 0.7},
  "title": {"text": "False Positives vs. Val False Positives", "fontSize": 5.8, "offset": 0.3},
  "data": {"name": "fig4"},
  "transform": [{"filter": "datum.metric === 'fp'"}, {"fold": ["train_multi_efficientNet", "val_multi_efficientNet", "train_binary_efficientNet", "val_binary_efficientNet"], "as": ["series", "value"]}],
  "mark": {"type": "line", "strokeWidth": 0.9, "opacity": 0.85},
  "encoding": {
   "x": {"field": "epoch", "type": "quantitative", "scale": {"domain": [-0.7, 14.7], "nice": false, "zero": false}, "axis": {"values": [0, 2, 4, 6, 8, 10, 12, 14], "title": "Epochs", "grid": true, "labelFontSize": 4.6, "titleFontSize": 4.8, "tickSize": 0.5, "labelPadding": 0, "titlePadding": 0}},
   "y": {"field": "value", "type": "quantitative", "scale": {"domain": [-40, 816], "nice": false, "zero": false}, "axis": {"values": [0, 100, 200, 300, 400, 500, 600, 700, 800], "title": "False Positives", "grid": true, "labelFontSize": 5, "titleFontSize": 5.5, "tickSize": 1.5, "titlePadding": 2}},
   "color": {"field": "series", "type": "nominal", "scale": {"domain": ["train_multi_efficientNet", "val_multi_efficientNet", "train_binary_efficientNet", "val_binary_efficientNet"], "range": ["#1f77b4", "#ff7f0e", "#2ca02c", "#d62728"]},
    "legend": {"title": null, "orient": "top-right", "offset": 1, "labelFontSize": 4.8, "symbolType": "stroke", "symbolSize": 81, "symbolStrokeWidth": 1, "rowPadding": -2.5, "labelOffset": 3, "padding": 2, "strokeColor": "#ccc", "fillColor": "white", "cornerRadius": 1.5}}
  }},
 {"width": 33, "height": 1, "data": {"values": [{}]}, "mark": {"type": "text", "text": ""}},
 {"width": 203, "height": 94, "view": {"stroke": "#333", "strokeWidth": 0.7},
  "title": {"text": "Precision vs. Val Precision", "fontSize": 5.8, "offset": 0.3},
  "data": {"name": "fig4"},
  "transform": [{"filter": "datum.metric === 'prec'"}, {"fold": ["train_multi_efficientNet", "val_multi_efficientNet", "train_binary_efficientNet", "val_binary_efficientNet"], "as": ["series", "value"]}],
  "mark": {"type": "line", "strokeWidth": 0.9, "opacity": 0.85},
  "encoding": {
   "x": {"field": "epoch", "type": "quantitative", "scale": {"domain": [-0.7, 14.7], "nice": false, "zero": false}, "axis": {"values": [0, 2, 4, 6, 8, 10, 12, 14], "title": "Epochs", "grid": true, "labelFontSize": 4.6, "titleFontSize": 4.8, "tickSize": 0.5, "labelPadding": 0, "titlePadding": 0}},
   "y": {"field": "value", "type": "quantitative", "scale": {"domain": [0.36, 0.937], "nice": false, "zero": false}, "axis": {"values": [0.4, 0.5, 0.6, 0.7, 0.8, 0.9], "format": ".1f", "title": "Precision", "grid": true, "labelFontSize": 5, "titleFontSize": 5.5, "tickSize": 1.5, "titlePadding": 2}},
   "color": {"field": "series", "type": "nominal", "scale": {"domain": ["train_multi_efficientNet", "val_multi_efficientNet", "train_binary_efficientNet", "val_binary_efficientNet"], "range": ["#1f77b4", "#ff7f0e", "#2ca02c", "#d62728"]},
    "legend": {"title": null, "orient": "top-right", "offset": 1, "labelFontSize": 4.8, "symbolType": "stroke", "symbolSize": 81, "symbolStrokeWidth": 1, "rowPadding": -2.5, "labelOffset": 3, "padding": 2, "strokeColor": "#ccc", "fillColor": "white", "cornerRadius": 1.5}}
  }},

 {"width": 24, "height": 95, "data": {"values": [{}]}, "mark": {"type": "text", "text": ""}},
 {"width": 200, "height": 94, "view": {"stroke": "#333", "strokeWidth": 0.7},
  "title": {"text": "Recall vs. Val Recall", "fontSize": 5.8, "offset": 0.3},
  "data": {"name": "fig4"},
  "transform": [{"filter": "datum.metric === 'recall'"}, {"fold": ["train_multi_efficientNet", "val_multi_efficientNet", "train_binary_efficientNet", "val_binary_efficientNet"], "as": ["series", "value"]}],
  "mark": {"type": "line", "strokeWidth": 0.9, "opacity": 0.85},
  "encoding": {
   "x": {"field": "epoch", "type": "quantitative", "scale": {"domain": [-0.7, 14.7], "nice": false, "zero": false}, "axis": {"values": [0, 2, 4, 6, 8, 10, 12, 14], "title": "Epochs", "grid": true, "labelFontSize": 4.6, "titleFontSize": 4.8, "tickSize": 0.5, "labelPadding": 0, "titlePadding": 0}},
   "y": {"field": "value", "type": "quantitative", "scale": {"domain": [0.235, 0.99], "nice": false, "zero": false}, "axis": {"values": [0.3, 0.4, 0.5, 0.6, 0.7, 0.8, 0.9], "format": ".1f", "title": "Recall", "grid": true, "labelFontSize": 5, "titleFontSize": 5.5, "tickSize": 1.5, "titlePadding": 2}},
   "color": {"field": "series", "type": "nominal", "scale": {"domain": ["train_multi_efficientNet", "val_multi_efficientNet", "train_binary_efficientNet", "val_binary_efficientNet"], "range": ["#1f77b4", "#ff7f0e", "#2ca02c", "#d62728"]},
    "legend": {"title": null, "orient": "top-right", "offset": 1, "labelFontSize": 4.8, "symbolType": "stroke", "symbolSize": 81, "symbolStrokeWidth": 1, "rowPadding": -2.5, "labelOffset": 3, "padding": 2, "strokeColor": "#ccc", "fillColor": "white", "cornerRadius": 1.5}}
  }},
 {"width": 1, "height": 1, "data": {"values": [{}]}, "mark": {"type": "text", "text": ""}},
 {"width": 1, "height": 1, "data": {"values": [{}]}, "mark": {"type": "text", "text": ""}},

 {"width": 24, "height": 62,
  "data": {"values": [{"label": "Figure 4. Comparative analysis of binary and multiclass classification indicators", "pos": 0.5}]},
  "mark": {"type": "text", "align": "center", "fontSize": 10.2},
  "encoding": {"x": {"field": "pos", "type": "quantitative", "scale": {"domain": [0, 1], "range": [0, 473], "nice": false, "zero": false}, "axis": null}, "text": {"field": "label"}}},
 {"width": 1, "height": 1, "data": {"values": [{}]}, "mark": {"type": "text", "text": ""}},
 {"width": 1, "height": 1, "data": {"values": [{}]}, "mark": {"type": "text", "text": ""}},
 {"width": 1, "height": 1, "data": {"values": [{}]}, "mark": {"type": "text", "text": ""}},

 {"width": 24, "height": 36,
  "data": {"values": [
   {"line": 1, "pos": 0, "label": "4.", "style": "bold"},
   {"line": 1, "pos": 0.053, "label": "CONCLUSION", "style": "bold"},
   {"line": 2, "pos": 0.0846, "label": "In conclusion, a study on the application of deep learning methods EfficientNet and DenseNet for", "style": "normal"},
   {"line": 3, "pos": 0, "label": "automated analysis of retinal structures in ophthalmology revealed important conclusions. The EfficientNet", "style": "normal"}
  ]},
  "encoding": {
   "x": {"field": "pos", "type": "quantitative", "scale": {"domain": [0, 1], "range": [0, 473], "nice": false, "zero": false}, "axis": null},
   "y": {"field": "line", "type": "ordinal", "scale": {"type": "point", "padding": 0.5}, "axis": null},
   "text": {"field": "label"}
  },
  "layer": [
   {"transform": [{"filter": "datum.style === 'bold'"}], "mark": {"type": "text", "align": "left", "fontSize": 10.5, "fontWeight": "bold"}},
   {"transform": [{"filter": "datum.style === 'normal'"}], "mark": {"type": "text", "align": "left", "fontSize": 11}}
  ]},
 {"width": 1, "height": 48, "data": {"values": [{}]}, "mark": {"type": "text", "text": ""}},
 {"width": 1, "height": 1, "data": {"values": [{}]}, "mark": {"type": "text", "text": ""}},
 {"width": 1, "height": 1, "data": {"values": [{}]}, "mark": {"type": "text", "text": ""}},

 {"width": 24, "height": 20,
  "data": {"values": [{"label": "Int J Elec & Comp Eng, Vol. 14, No. 2, April 2024: 1987-1995", "pos": 0}]},
  "mark": {"type": "text", "align": "left", "fontSize": 10.7},
  "encoding": {"x": {"field": "pos", "type": "quantitative", "scale": {"domain": [0, 1], "range": [0, 473], "nice": false, "zero": false}, "axis": {"orient": "top", "labels": false, "ticks": false, "grid": false, "title": null, "domain": true, "domainColor": "#000", "domainWidth": 0.9}}, "text": {"field": "label"}}},
 {"width": 1, "height": 1, "data": {"values": [{}]}, "mark": {"type": "text", "text": ""}},
 {"width": 1, "height": 1, "data": {"values": [{}]}, "mark": {"type": "text", "text": ""}},
 {"width": 1, "height": 1, "data": {"values": [{}]}, "mark": {"type": "text", "text": ""}}
]
}
